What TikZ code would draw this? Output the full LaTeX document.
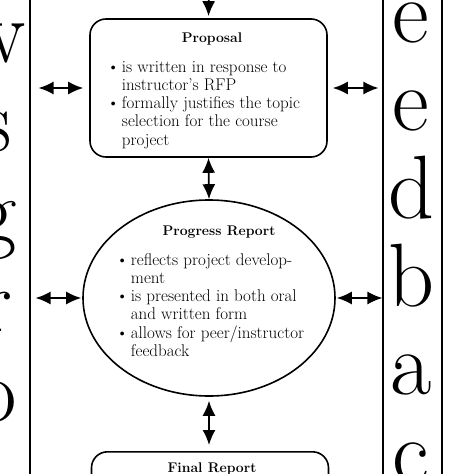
\documentclass[tikz,border=0pt]{standalone}
\usetikzlibrary{arrows.meta, shapes.geometric}

\newcommand{\bulletlist}[1]{\begin{tabular}[t]{@{}l@{\hspace{2.5pt}}l@{}}#1\end{tabular}}

\tikzset{
  stagebox/.style={draw, line width=1.6pt, rounded corners=16pt, minimum width=237pt, minimum height=138pt},
  stageoval/.style={draw, ellipse, line width=1.6pt, minimum width=252pt, minimum height=196pt, inner sep=0pt},
  sidebar/.style={draw, line width=1.1pt, minimum height=560pt},
  twoway/.style={{Latex[length=15pt,width=13pt]}-{Latex[length=15pt,width=13pt]}, line width=1.7pt},
  oneway/.style={-{Latex[length=15pt,width=13pt]}, line width=1.7pt},
  stagetitle/.style={font=\fontsize{14}{16}\selectfont\bfseries, anchor=base, inner sep=0pt},
  stagetext/.style={font=\fontsize{17}{18.3}\selectfont, anchor=base west, inner sep=0pt},
  bigletter/.style={font=\rmfamily\fontsize{90}{90}\selectfont, anchor=base, inner sep=0pt},
}

\begin{document}
\begin{tikzpicture}[x=1pt, y=-1pt]

    \useasboundingbox (0,0) rectangle (474,474);
    \clip (0,0) rectangle (474,474);

    % side bars
    \node[sidebar, minimum width=70pt] (wbar) at (-5,237) {};
    \node[sidebar, minimum width=59pt] (fbar) at (412.5,237) {};
    \foreach \ch [count=\i] in {w,s,g,r,o}
        \node[bigletter] (w\i) at (-4,{62+89.75*(\i-1)}) {\ch};
    \foreach \ch [count=\i] in {e,e,d,b,a,c}
        \node[bigletter] (f\i) at (411,{42+88*(\i-1)}) {\ch};

    % stages
    \node[stagebox] (proposal) at (208.5,88) {};
    \node[stagetitle] (proposaltitle) at (212,42) {Proposal};
    \node[stagetext] (proposaltext) at (107,72) {\bulletlist{
        \textbullet & is written in response to\\
                    & instructor's RFP\\
        \textbullet & formally justifies the topic\\
                    & selection for the course\\
                    & project}};

    \node[stageoval] (progress) at (209,298) {};
    \node[stagetitle] (progresstitle) at (219,235) {Progress Report};
    \node[stagetext] (progresstext) at (116,265) {\bulletlist{
        \textbullet & reflects project develop-\\
                    & ment\\
        \textbullet & is presented in both oral\\
                    & and written form\\
        \textbullet & allows for peer/instructor\\
                    & feedback}};

    \node[stagebox, anchor=north] (final) at (210,451) {};
    \node[stagetitle] (finaltitle) at (212,472) {Final Report};

    % arrows
    \coordinate (intop) at (209,-40);
    \draw[oneway, shorten >=2pt] (intop) -- (proposal.north);
    \draw[twoway] (proposal.south) -- (progress.north);
    \draw[twoway, shorten <=4pt, shorten >=6pt] (progress.south) -- (progress.south |- final.north);

    \draw[twoway, shorten <=6pt, shorten >=8pt] (proposal.west) -- (proposal.west -| wbar.east);
    \draw[twoway, shorten <=5pt, shorten >=4pt] (proposal.east) -- (proposal.east -| fbar.west);
    \draw[twoway, shorten <=1pt, shorten >=5pt] (progress.west) -- (progress.west -| wbar.east);
    \draw[twoway, shorten <=1pt] (progress.east) -- (progress.east -| fbar.west);

\end{tikzpicture}
\end{document}
